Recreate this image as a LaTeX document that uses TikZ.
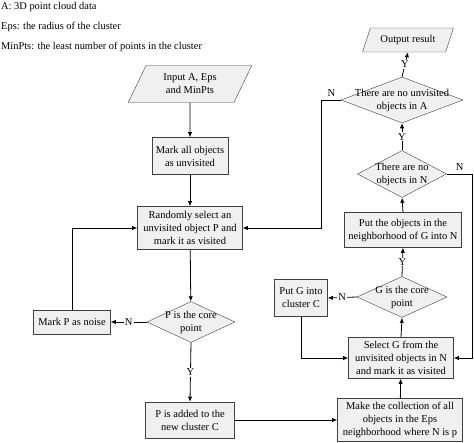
\documentclass[tikz,border=0pt]{standalone}
\usepackage{fontspec}
\setmainfont{Liberation Serif}
\usetikzlibrary{arrows.meta,shapes.geometric}

\begin{document}
\begin{tikzpicture}[x=1pt,y=-1pt,font=\fontsize{10.5}{13}\selectfont,
  proc/.style={draw=black!75,fill=black!6,align=center,inner sep=1pt},
  dec/.style={draw=black!75,diamond,fill=black!6,inner sep=0pt},
  io/.style={draw=black!75,trapezium,trapezium stretches=true,trapezium left angle=63,trapezium right angle=117,fill=black!6,align=center,inner sep=1pt},
  flow/.style={-{Latex[length=1.8mm,width=1.5mm]},line width=0.8pt},
  yn/.style={fill=white,inner sep=1pt},
  note/.style={anchor=west,font=\fontsize{10.4}{12}\selectfont,inner sep=0pt}]
  \useasboundingbox (0,0) rectangle (474,443);
  % legend
  \node[note] (hA) at (1,7) {A: 3D point cloud data};
  \node[note] (hE) at (1,27) {Eps: the radius of the cluster};
  \node[note] (hM) at (1,47) {MinPts: the least number of points in the cluster};
  % left column
  \node[io,minimum width=124,minimum height=37] (in) at (190,84) {Input A, Eps\\and MinPts};
  \node[proc,minimum width=76,minimum height=37] (mark) at (190,156) {Mark all objects\\as unvisited};
  \node[proc,minimum width=105,minimum height=43] (rand) at (190,228) {Randomly select an\\unvisited object P and\\mark it as visited};
  \node[dec,minimum width=88,minimum height=41,label={[align=center]center:P is the core\\point}] (pcore) at (191,322) {};
  \node[proc,minimum width=77,minimum height=24] (noise) at (72,322) {Mark P as noise};
  \node[proc,minimum width=89,minimum height=36] (padd) at (190,420) {P is added to the\\new cluster C};
  % right column
  \node[proc,minimum width=125,minimum height=43] (coll) at (400,420) {Make the collection of all\\objects in the Eps\\neighborhood where N is p};
  \node[proc,minimum width=105,minimum height=41] (selg) at (401,358) {Select G from the\\unvisited objects in N\\and mark it as visited};
  \node[dec,minimum width=90,minimum height=41,label={[align=center]center:G is the core\\point}] (gcore) at (402,297) {};
  \node[proc,minimum width=53,minimum height=37] (putg) at (301,298) {Put G into\\cluster C};
  \node[proc,minimum width=117,minimum height=35] (putn) at (403,230) {Put the objects in the\\neighborhood of G into N};
  \node[dec,minimum width=89,minimum height=47,label={[align=center]center:There are no\\objects in N}] (dN) at (402,174) {};
  \node[dec,minimum width=122,minimum height=46,label={[align=center]center:There are no unvisited\\objects in A}] (dA) at (402,100) {};
  \node[io,minimum width=91,minimum height=24] (out) at (408,40) {Output result};
  % connectors
  \draw[flow] (in) -- (mark);
  \draw[flow] (mark) -- (rand);
  \draw[flow] (rand) -- (pcore);
  \draw[flow] (pcore.west) -- (noise.east) node[yn,midway]{N};
  \draw[flow] (noise.north) |- (rand.west);
  \draw[flow] (pcore.south) -- (padd.north) node[yn,midway]{Y};
  \draw[flow] (padd.east) -- (coll.west);
  \draw[flow] (coll) -- (selg);
  \draw[flow] (selg.north) -- (gcore.south);
  \draw[flow] (gcore.west) -- (putg.east) node[yn,midway]{N};
  \draw[flow] (putg.south) |- (selg.west);
  \draw[flow] (gcore.north) -- (putn.south) node[yn,midway]{Y};
  \draw[flow] (putn.north) -- (dN.south);
  \draw[flow] (dN.east) -- ++(26,0) node[midway,above]{N} |- (selg.east);
  \draw[flow] (dN.north) -- (dA.south) node[yn,midway]{Y};
  \draw[flow] (dA.west) -- ++(-19,0) node[midway,above]{N} |- (rand.east);
  \draw[flow] (dA.north) -- (out.south) node[yn,midway]{Y};
\end{tikzpicture}
\end{document}
